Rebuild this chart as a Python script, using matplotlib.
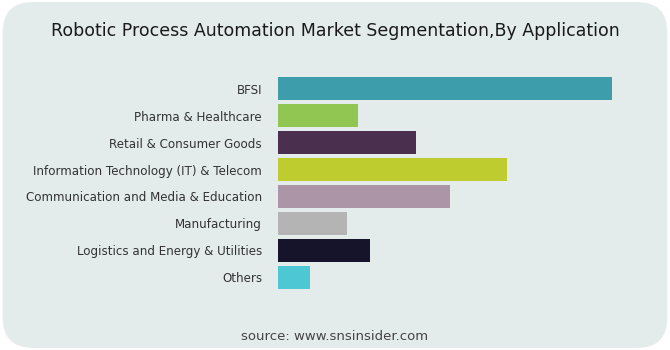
import matplotlib
matplotlib.use("Agg")
import matplotlib.pyplot as plt
from matplotlib.patches import FancyBboxPatch

categories = ["BFSI", "Pharma & Healthcare", "Retail & Consumer Goods",
              "Information Technology (IT) & Telecom",
              "Communication and Media & Education", "Manufacturing",
              "Logistics and Energy & Utilities", "Others"]
values = [33.4, 8.0, 13.8, 22.9, 17.2, 6.9, 9.2, 3.2]
colors = ["#3d9daa", "#92c653", "#4b2f4f", "#bfcc2f",
          "#ad95a8", "#b3b4b3", "#15142a", "#4dc7d3"]

W, H = 670, 350
fig = plt.figure(figsize=(W / 100, H / 100), dpi=100)
fig.patch.set_facecolor("white")
bg = FancyBboxPatch((0.004, 0.006), 0.992, 0.988,
                    boxstyle="round,pad=0,rounding_size=0.045",
                    transform=fig.transFigure, facecolor="#e3ecea",
                    edgecolor="none", zorder=-5, mutation_aspect=W / H)
fig.patches.append(bg)

ax = fig.add_axes([278 / W, (H - 290.8) / H, 334.3 / W, 215.6 / H])
ax.set_zorder(5)
ax.set_facecolor("none")
ypos = list(range(len(categories)))
ax.barh(ypos, values, height=0.85, color=colors, zorder=2)
ax.set_xlim(0, max(values))
ax.set_ylim(len(categories) - 0.5, -0.5)
ax.set_yticks(ypos)
ax.set_yticklabels(categories, fontsize=8.6, color="#333333")
for lbl in ax.get_yticklabels():
    lbl.set_y(lbl.get_position()[1])
ax.tick_params(axis="y", length=0, pad=11.5)
ax.set_xticks([])
for s in ax.spines.values():
    s.set_visible(False)

fig.text(0.5, 1 - 31 / H, "Robotic Process Automation Market Segmentation,By Application",
         ha="center", va="center", fontsize=12.5, color="#1a1a1a", zorder=5)
fig.text(0.5, 1 - 336 / H, "source: www.snsinsider.com",
         ha="center", va="center", fontsize=9.5, color="#444444", zorder=5)

fig.savefig("out.png", dpi=100, facecolor=fig.get_facecolor())
